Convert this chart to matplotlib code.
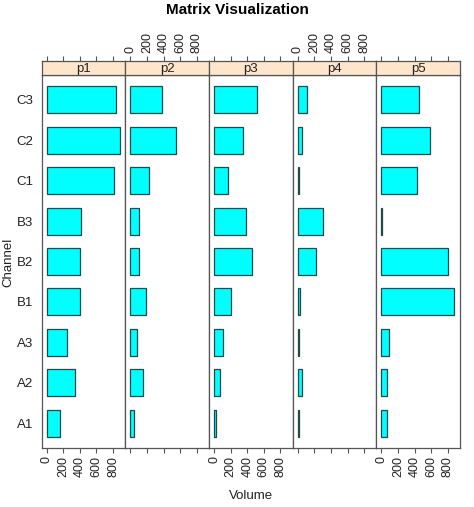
import matplotlib.pyplot as plt

plt.rcParams['font.family'] = ['Liberation Sans', 'DejaVu Sans']

channels = ["A1", "A2", "A3", "B1", "B2", "B3", "C1", "C2", "C3"]
panels = ["p1", "p2", "p3", "p4", "p5"]
p1 = [160, 344, 248, 404, 404, 412, 816, 884, 832]
p2 = [48, 148, 80, 184, 100, 100, 220, 552, 376]
p3 = [24, 68, 104, 204, 456, 380, 164, 344, 512]
p4 = [10, 56, 20, 32, 220, 308, 20, 48, 116]
p5 = [64, 64, 92, 872, 804, 12, 428, 588, 448]
volumes = [p1, p2, p3, p4, p5]
ticks = [0, 200, 400, 600, 800]

W, H = 474, 507
fig = plt.figure(figsize=(W / 100, H / 100), dpi=100)

left, right = 41.5, 460.0
body_top, body_bot = 75.3, 447.7
strip_top = 61.0
pw = (right - left) / len(panels)
edge = '#555555'
xlim = (-62, 946)

for i, name in enumerate(panels):
    x0 = (left + i * pw) / W
    ax = fig.add_axes([x0, 1 - body_bot / H, pw / W, (body_bot - body_top) / H])
    ax.barh(range(1, len(channels) + 1), volumes[i], height=2 / 3, left=0,
            color='#00ffff', edgecolor='#1f4a4a', linewidth=0.9)
    ax.set_xlim(*xlim)
    ax.set_ylim(0.4, len(channels) + 0.6)
    ax.set_xticks(ticks)
    ax.tick_params(axis='x', top=False, bottom=True, direction='out',
                   length=3.8, width=0.8, color=edge, labelsize=9,
                   labelcolor='#222222', labelrotation=90,
                   labelbottom=(i % 2 == 0), pad=2)
    if i == 0:
        ax.set_yticks(range(1, len(channels) + 1))
        ax.set_yticklabels(channels, fontsize=9.5, color='#222222')
        ax.tick_params(axis='y', length=0, pad=6)
    else:
        ax.set_yticks([])
    for s in ax.spines.values():
        s.set_color(edge)
        s.set_linewidth(0.9)

    # strip with the top axis ticks
    sax = fig.add_axes([x0, 1 - body_top / H, pw / W, (body_top - strip_top) / H])
    sax.set_facecolor('#ffe5cc')
    sax.set_xlim(*xlim)
    sax.set_xticks(ticks)
    sax.set_yticks([])
    sax.tick_params(axis='x', top=True, bottom=False, direction='out',
                    length=3.8, width=0.8, color=edge, labelsize=9,
                    labelcolor='#222222', labelrotation=90,
                    labelbottom=False, labeltop=(i % 2 == 1), pad=2)
    for s in sax.spines.values():
        s.set_color(edge)
        s.set_linewidth(0.9)
    sax.text(0.5, 0.45, name, ha='center', va='center', fontsize=9.5,
             color='#222222', transform=sax.transAxes)

fig.text(0.5, 1 - 10 / H, "Matrix Visualization", ha='center', va='center',
         fontsize=11, fontweight='bold')
fig.text((left + right) / 2 / W, 1 - 496 / H, "Volume", ha='center', va='center',
         fontsize=9.5, color='#222222')
fig.text(8 / W, 1 - 262 / H, "Channel", ha='center', va='center',
         rotation=90, fontsize=9.5, color='#222222')

fig.savefig('out.png', dpi=100)
